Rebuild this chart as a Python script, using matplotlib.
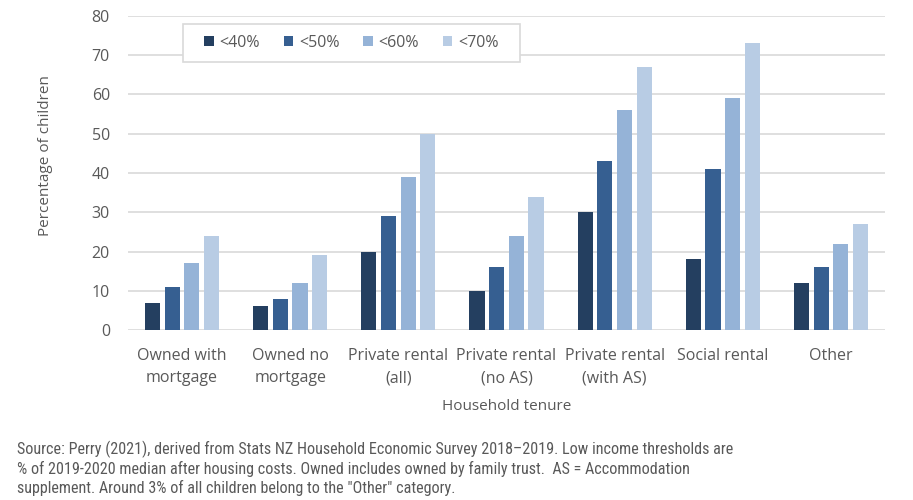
import matplotlib
matplotlib.use("Agg")
import matplotlib.pyplot as plt
from matplotlib.patches import Rectangle
import numpy as np

categories = ["Owned with\nmortgage", "Owned no\nmortgage", "Private rental\n(all)",
              "Private rental\n(no AS)", "Private rental\n(with AS)", "Social rental", "Other"]
series_names = ["<40%", "<50%", "<60%", "<70%"]
v40 = [7, 6, 20, 10, 30, 18, 12]
v50 = [11, 8, 29, 16, 43, 41, 16]
v60 = [17, 12, 39, 24, 56, 59, 22]
v70 = [24, 19, 50, 34, 67, 73, 27]
series = [v40, v50, v60, v70]
colors = ["#243f60", "#365f91", "#95b3d7", "#b8cce4"]
yticks = [0, 10, 20, 30, 40, 50, 60, 70, 80]

plt.rcParams['font.family'] = ['Open Sans', 'DejaVu Sans']
fig = plt.figure(figsize=(9.13, 5.0), dpi=100)
L, R, T, B = 128, 885, 16, 330
W, H = R - L, B - T
ax = fig.add_axes([L/913, 1-B/500, W/913, H/500])

x = np.arange(len(categories))
bw = 0.14
step = 0.182
for i, (vals, c, name) in enumerate(zip(series, colors, series_names)):
    ax.bar(x + (i - 1.5) * step, vals, width=bw, color=c, label=name, zorder=3)

ax.set_xlim(-0.5, len(categories) - 0.5)
ax.set_ylim(0, 80)
ax.set_yticks(yticks)
ax.grid(axis='y', color='#d9d9d9', linewidth=1.2, zorder=0)
for s in ax.spines.values():
    s.set_visible(False)
ax.tick_params(axis='y', length=0, colors='#595959', labelsize=11.5, pad=13)
ax.tick_params(axis='x', length=0, colors='#595959', labelsize=11.5, pad=13)
ax.set_xticks(x)
ax.set_xticklabels(categories, linespacing=1.5)
ax.set_ylabel("Percentage of children", color='#595959', fontsize=11)
ax.yaxis.set_label_coords((53 - L) / W, (B - 156) / H)
ax.set_xlabel("Household tenure", color='#595959', fontsize=11)
ax.xaxis.set_label_coords(0.5, (B - 406) / H)
ax.xaxis.label.set_va('center')

# legend frame
fx0, fx1, fy0, fy1 = 183, 520, 24, 62
ax.add_patch(Rectangle(((fx0 - L) / W, (B - fy1) / H), (fx1 - fx0) / W, (fy1 - fy0) / H,
                       transform=ax.transAxes, facecolor='white', edgecolor='#d9d9d9',
                       linewidth=1.2, zorder=4))
leg = ax.legend(loc='center left', bbox_to_anchor=((204 - L) / W, (B - 43) / H), ncol=4,
                frameon=False, fontsize=11.5, borderaxespad=0, borderpad=0,
                handlelength=0.6, handleheight=0.6, handletextpad=0.35, columnspacing=1.5,
                labelcolor='#595959')
leg.set_zorder(5)

footer = ("Source: Perry (2021), derived from Stats NZ Household Economic Survey 2018\u20132019. Low income thresholds are\n"
          "% of 2019-2020 median after housing costs. Owned includes owned by family trust.  AS = Accommodation\n"
          "supplement. Around 3% of all children belong to the \"Other\" category.")
fig.text(17/913, 1-441/500, footer, fontsize=11.6, color='#595959', va='top', ha='left', linespacing=1.2,
         family=['Roboto Condensed', 'Roboto', 'DejaVu Sans'])

fig.savefig("out.png", dpi=100)
